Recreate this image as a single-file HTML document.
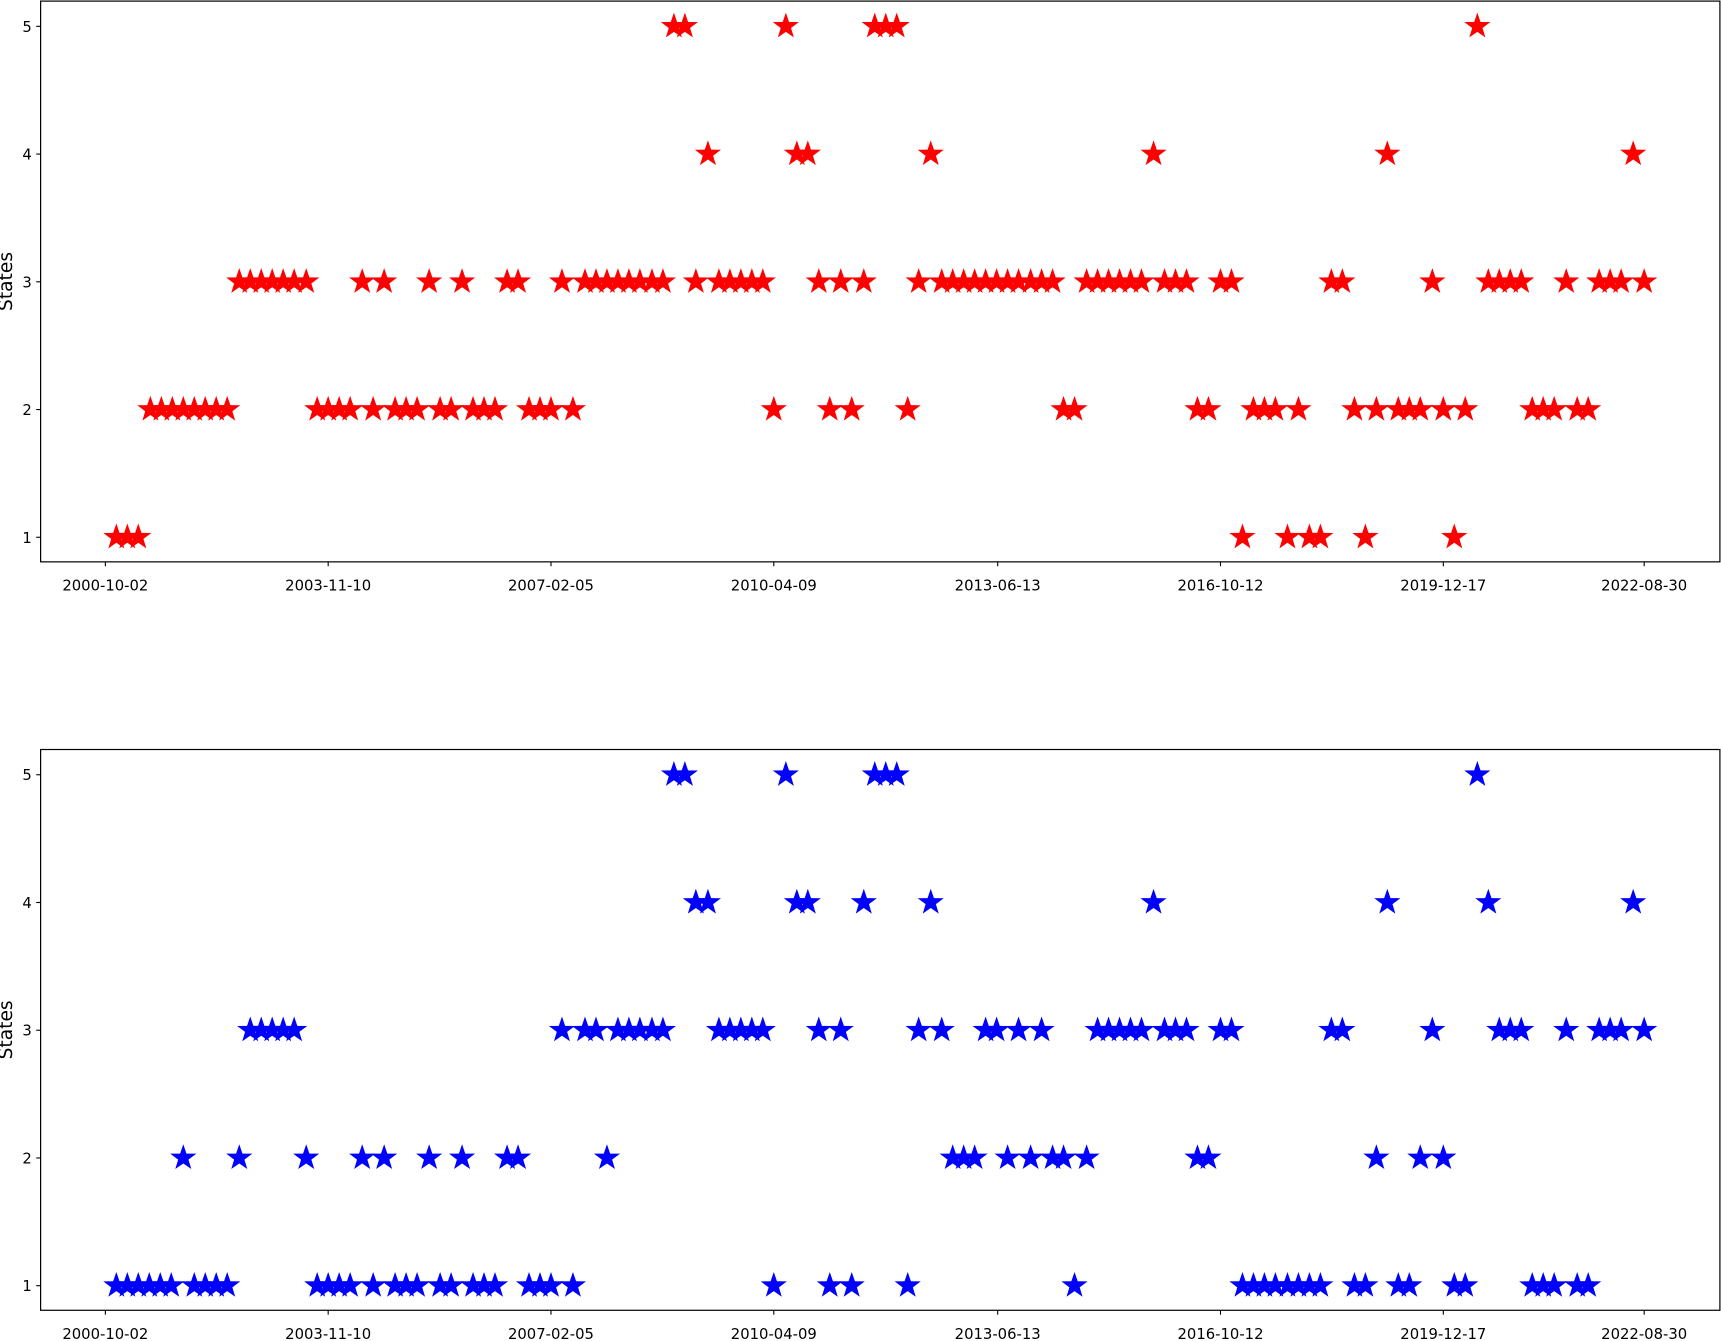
<!DOCTYPE html>
<html><head><meta charset="utf-8"><style>
html,body{margin:0;padding:0;background:#fff;}
svg{display:block;}
text{font-family:"DejaVu Sans","Liberation Sans",sans-serif;font-size:13.5px;fill:#000;}
</style></head><body>
<svg id="s" width="1721" height="1341" viewBox="0 0 1568 1222" preserveAspectRatio="none" xmlns="http://www.w3.org/2000/svg">
<defs><path id="st" d="M0,-12.5 L2.9,-4 L11.9,-3.9 L4.7,1.5 L7.3,10.1 L0,5 L-7.3,10.1 L-4.7,1.5 L-11.9,-3.9 L-2.9,-4 Z"/></defs>
<g id="g"></g>
</svg>
<script>
var g=document.getElementById('g'),NS='http://www.w3.org/2000/svg';
function el(t,a,txt){var e=document.createElementNS(NS,t);for(var k in a)e.setAttribute(k,a[k]);if(txt)e.textContent=txt;g.appendChild(e);return e;}
var xt=[[96,'2000-10-02'],[299,'2003-11-10'],[502,'2007-02-05'],[705,'2010-04-09'],[909,'2013-06-13'],[1112,'2016-10-12'],[1315,'2019-12-17'],[1498,'2022-08-30']];
function axes(top,bot,y5,col,data){
  var sp=116.4;
  for(var s in data){data[s].forEach(function(x){var u=document.createElementNS(NS,'use');u.setAttribute('href','#st');u.setAttribute('fill',col);u.setAttribute('transform','translate('+x+','+(y5+(5-s)*sp)+')');g.appendChild(u);});}
  el('rect',{x:37,y:top,width:1530,height:bot-top,fill:'none',stroke:'#000','stroke-width':1.1});
  for(var i=1;i<=5;i++){var y=y5+(5-i)*sp;el('line',{x1:33,x2:37,y1:y,y2:y,stroke:'#000'});el('text',{x:29,y:y+5,'text-anchor':'end'},String(i));}
  xt.forEach(function(t){el('line',{x1:t[0],x2:t[0],y1:bot,y2:bot+4,stroke:'#000'});el('text',{x:t[0],y:bot+26,'text-anchor':'middle'},t[1]);});
  var my=(top+bot)/2;el('text',{x:0,y:0,'text-anchor':'middle',style:'font-size:17px',transform:'translate(11,'+my+') rotate(-90)'},'States');
}
axes(1,512,24,'#ff0000',{
1:[106,116,126,1132,1173,1193,1203,1244,1325],
2:[137,147,157,167,177,187,197,207,289,299,309,319,340,360,370,380,401,411,431,441,451,482,492,502,522,705,756,776,827,969,979,1091,1101,1142,1152,1162,1183,1234,1254,1274,1284,1294,1315,1335,1396,1406,1416,1437,1447],
3:[218,228,238,248,258,268,279,330,350,391,421,462,472,512,533,543,553,563,573,583,594,604,634,655,665,675,685,695,746,766,787,837,858,868,878,888,898,908,918,928,939,949,959,990,1000,1010,1020,1030,1040,1061,1071,1081,1112,1122,1213,1223,1305,1356,1366,1376,1386,1427,1457,1467,1477,1498],
4:[645,726,736,848,1051,1264,1488],
5:[614,624,716,797,807,817,1346]});
axes(683,1194,706,'#0000ff',{
1:[106,116,126,136,146,156,177,187,197,207,289,299,309,319,340,360,370,380,401,411,431,441,451,482,492,502,522,705,756,776,827,979,1132,1142,1152,1162,1173,1183,1193,1203,1234,1244,1274,1284,1325,1335,1396,1406,1416,1437,1447],
2:[167,218,279,330,350,391,421,462,472,553,868,878,888,918,939,959,969,990,1091,1101,1254,1294,1315],
3:[228,238,248,258,268,512,533,543,563,573,583,594,604,655,665,675,685,695,746,766,837,858,898,908,928,949,1000,1010,1020,1030,1040,1061,1071,1081,1112,1122,1213,1223,1305,1366,1376,1386,1427,1457,1467,1477,1498],
4:[634,645,726,736,787,848,1051,1264,1356,1488],
5:[614,624,716,797,807,817,1346]});
</script>
</body></html>
